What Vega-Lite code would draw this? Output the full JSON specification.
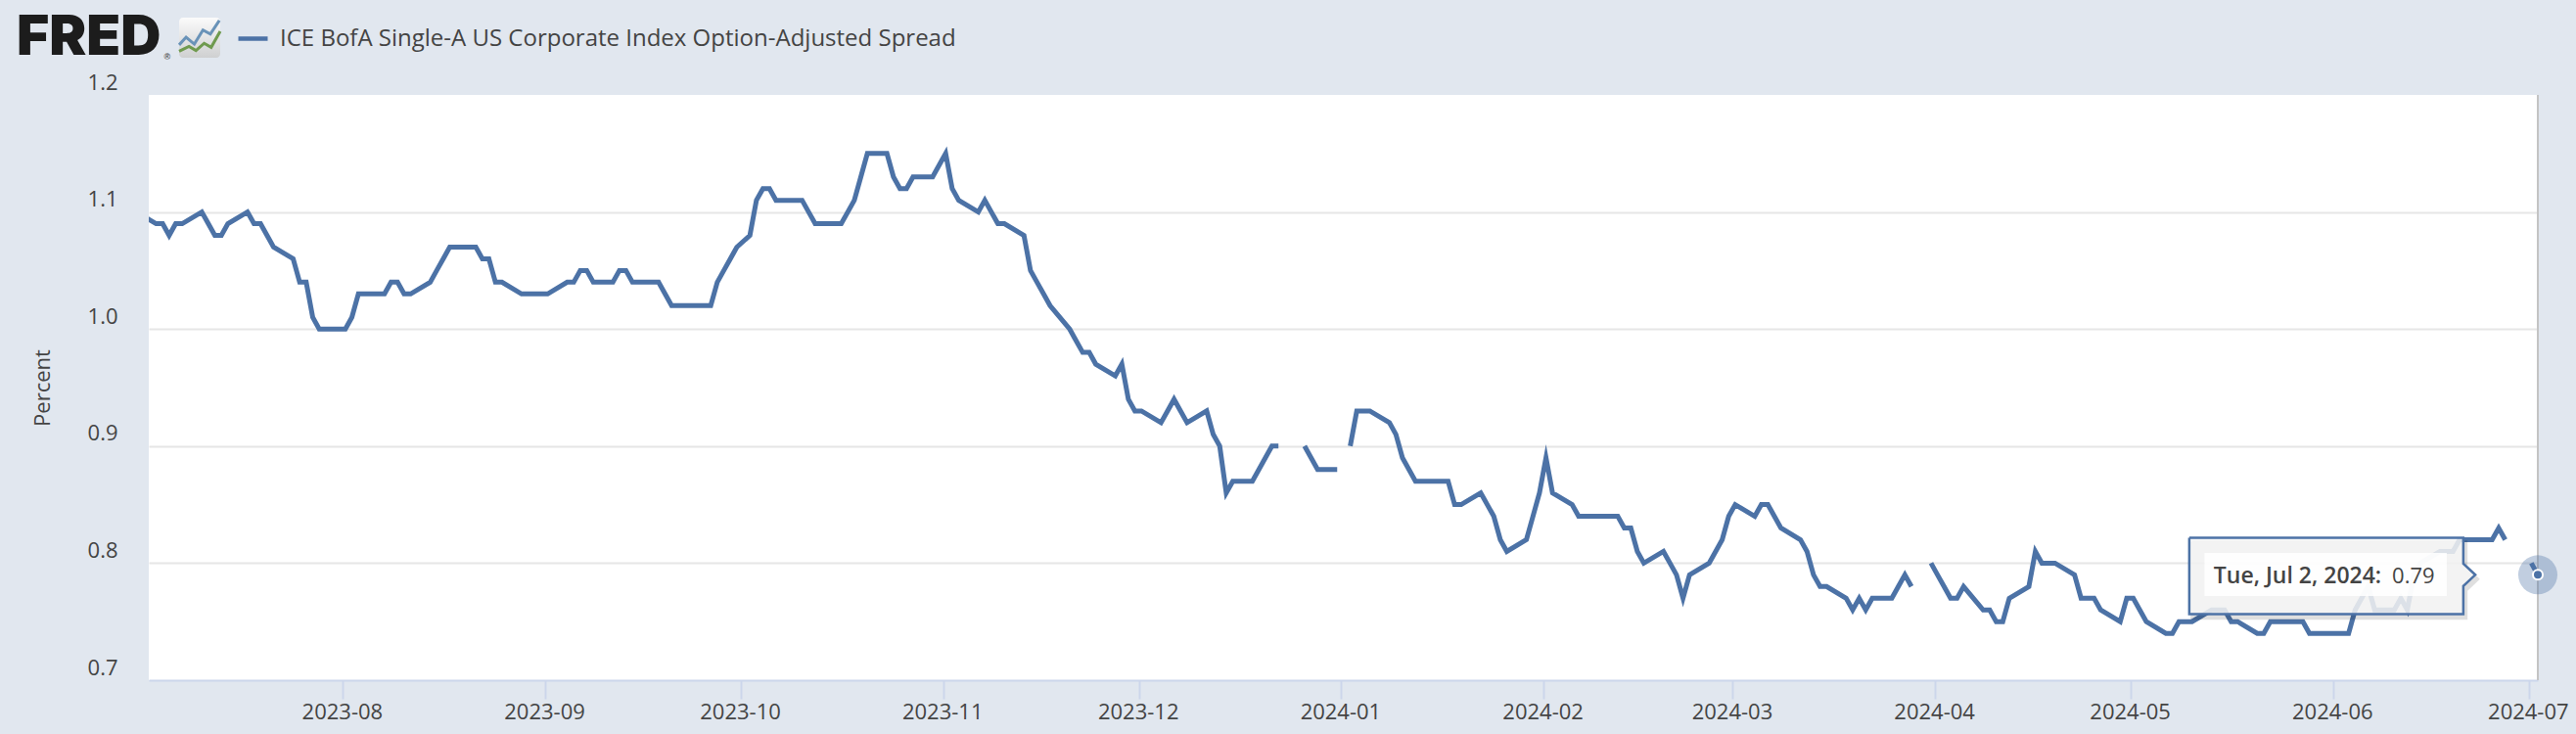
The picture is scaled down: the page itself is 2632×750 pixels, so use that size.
{
  "$schema": "https://vega.github.io/schema/vega-lite/v6.json",
  "width": 2441,
  "height": 598,
  "autosize": {"type": "none"},
  "padding": {"left": 152, "top": 97, "right": 39, "bottom": 55},
  "background": "#e1e7ef",
  "title": {
    "text": "FRED",
    "anchor": "start",
    "frame": "group",
    "dx": -135,
    "offset": -53,
    "font": "Inter",
    "fontSize": 57,
    "fontWeight": 900,
    "color": "#1c1c1c"
  },
  "datasets": {
    "spread": [
      {"date":"2023-06-30","spread":1.10},{"date":"2023-07-03","spread":1.09},{"date":"2023-07-04","spread":1.09},{"date":"2023-07-05","spread":1.08},{"date":"2023-07-06","spread":1.09},{"date":"2023-07-07","spread":1.09},
      {"date":"2023-07-10","spread":1.10},{"date":"2023-07-11","spread":1.09},{"date":"2023-07-12","spread":1.08},{"date":"2023-07-13","spread":1.08},{"date":"2023-07-14","spread":1.09},
      {"date":"2023-07-17","spread":1.10},{"date":"2023-07-18","spread":1.09},{"date":"2023-07-19","spread":1.09},{"date":"2023-07-20","spread":1.08},{"date":"2023-07-21","spread":1.07},
      {"date":"2023-07-24","spread":1.06},{"date":"2023-07-25","spread":1.04},{"date":"2023-07-26","spread":1.04},{"date":"2023-07-27","spread":1.01},{"date":"2023-07-28","spread":1.00},
      {"date":"2023-07-31","spread":1.00},{"date":"2023-08-01","spread":1.00},{"date":"2023-08-02","spread":1.01},{"date":"2023-08-03","spread":1.03},{"date":"2023-08-04","spread":1.03},
      {"date":"2023-08-07","spread":1.03},{"date":"2023-08-08","spread":1.04},{"date":"2023-08-09","spread":1.04},{"date":"2023-08-10","spread":1.03},{"date":"2023-08-11","spread":1.03},
      {"date":"2023-08-14","spread":1.04},{"date":"2023-08-15","spread":1.05},{"date":"2023-08-16","spread":1.06},{"date":"2023-08-17","spread":1.07},{"date":"2023-08-18","spread":1.07},
      {"date":"2023-08-21","spread":1.07},{"date":"2023-08-22","spread":1.06},{"date":"2023-08-23","spread":1.06},{"date":"2023-08-24","spread":1.04},{"date":"2023-08-25","spread":1.04},
      {"date":"2023-08-28","spread":1.03},{"date":"2023-08-29","spread":1.03},{"date":"2023-08-30","spread":1.03},{"date":"2023-08-31","spread":1.03},{"date":"2023-09-01","spread":1.03},
      {"date":"2023-09-04","spread":1.04},{"date":"2023-09-05","spread":1.04},{"date":"2023-09-06","spread":1.05},{"date":"2023-09-07","spread":1.05},{"date":"2023-09-08","spread":1.04},
      {"date":"2023-09-11","spread":1.04},{"date":"2023-09-12","spread":1.05},{"date":"2023-09-13","spread":1.05},{"date":"2023-09-14","spread":1.04},{"date":"2023-09-15","spread":1.04},
      {"date":"2023-09-18","spread":1.04},{"date":"2023-09-19","spread":1.03},{"date":"2023-09-20","spread":1.02},{"date":"2023-09-21","spread":1.02},{"date":"2023-09-22","spread":1.02},
      {"date":"2023-09-25","spread":1.02},{"date":"2023-09-26","spread":1.02},{"date":"2023-09-27","spread":1.04},{"date":"2023-09-28","spread":1.05},{"date":"2023-09-29","spread":1.06},{"date":"2023-09-30","spread":1.07},
      {"date":"2023-10-02","spread":1.08},{"date":"2023-10-03","spread":1.11},{"date":"2023-10-04","spread":1.12},{"date":"2023-10-05","spread":1.12},{"date":"2023-10-06","spread":1.11},
      {"date":"2023-10-09","spread":1.11},{"date":"2023-10-10","spread":1.11},{"date":"2023-10-11","spread":1.10},{"date":"2023-10-12","spread":1.09},{"date":"2023-10-13","spread":1.09},
      {"date":"2023-10-16","spread":1.09},{"date":"2023-10-17","spread":1.10},{"date":"2023-10-18","spread":1.11},{"date":"2023-10-19","spread":1.13},{"date":"2023-10-20","spread":1.15},
      {"date":"2023-10-23","spread":1.15},{"date":"2023-10-24","spread":1.13},{"date":"2023-10-25","spread":1.12},{"date":"2023-10-26","spread":1.12},{"date":"2023-10-27","spread":1.13},
      {"date":"2023-10-30","spread":1.13},{"date":"2023-10-31","spread":1.14},{"date":"2023-11-01","spread":1.15},{"date":"2023-11-02","spread":1.12},{"date":"2023-11-03","spread":1.11},
      {"date":"2023-11-06","spread":1.10},{"date":"2023-11-07","spread":1.11},{"date":"2023-11-08","spread":1.10},{"date":"2023-11-09","spread":1.09},{"date":"2023-11-10","spread":1.09},
      {"date":"2023-11-13","spread":1.08},{"date":"2023-11-14","spread":1.05},{"date":"2023-11-15","spread":1.04},{"date":"2023-11-16","spread":1.03},{"date":"2023-11-17","spread":1.02},
      {"date":"2023-11-20","spread":1.00},{"date":"2023-11-21","spread":0.99},{"date":"2023-11-22","spread":0.98},{"date":"2023-11-23","spread":0.98},{"date":"2023-11-24","spread":0.97},
      {"date":"2023-11-27","spread":0.96},{"date":"2023-11-28","spread":0.97},{"date":"2023-11-29","spread":0.94},{"date":"2023-11-30","spread":0.93},{"date":"2023-12-01","spread":0.93},
      {"date":"2023-12-04","spread":0.92},{"date":"2023-12-05","spread":0.93},{"date":"2023-12-06","spread":0.94},{"date":"2023-12-07","spread":0.93},{"date":"2023-12-08","spread":0.92},
      {"date":"2023-12-11","spread":0.93},{"date":"2023-12-12","spread":0.91},{"date":"2023-12-13","spread":0.90},{"date":"2023-12-14","spread":0.86},{"date":"2023-12-15","spread":0.87},
      {"date":"2023-12-18","spread":0.87},{"date":"2023-12-19","spread":0.88},{"date":"2023-12-20","spread":0.89},{"date":"2023-12-21","spread":0.90},{"date":"2023-12-22","spread":0.90},
      {"date":"2023-12-25","spread":null},{"date":"2023-12-26","spread":0.90},{"date":"2023-12-27","spread":0.89},{"date":"2023-12-28","spread":0.88},{"date":"2023-12-29","spread":0.88},{"date":"2023-12-31","spread":0.88},
      {"date":"2024-01-01","spread":null},{"date":"2024-01-02","spread":0.90},{"date":"2024-01-03","spread":0.93},{"date":"2024-01-04","spread":0.93},{"date":"2024-01-05","spread":0.93},
      {"date":"2024-01-08","spread":0.92},{"date":"2024-01-09","spread":0.91},{"date":"2024-01-10","spread":0.89},{"date":"2024-01-11","spread":0.88},{"date":"2024-01-12","spread":0.87},
      {"date":"2024-01-15","spread":0.87},{"date":"2024-01-16","spread":0.87},{"date":"2024-01-17","spread":0.87},{"date":"2024-01-18","spread":0.85},{"date":"2024-01-19","spread":0.85},
      {"date":"2024-01-22","spread":0.86},{"date":"2024-01-23","spread":0.85},{"date":"2024-01-24","spread":0.84},{"date":"2024-01-25","spread":0.82},{"date":"2024-01-26","spread":0.81},
      {"date":"2024-01-29","spread":0.82},{"date":"2024-01-30","spread":0.84},{"date":"2024-01-31","spread":0.86},{"date":"2024-02-01","spread":0.89},{"date":"2024-02-02","spread":0.86},
      {"date":"2024-02-05","spread":0.85},{"date":"2024-02-06","spread":0.84},{"date":"2024-02-07","spread":0.84},{"date":"2024-02-08","spread":0.84},{"date":"2024-02-09","spread":0.84},
      {"date":"2024-02-12","spread":0.84},{"date":"2024-02-13","spread":0.83},{"date":"2024-02-14","spread":0.83},{"date":"2024-02-15","spread":0.81},{"date":"2024-02-16","spread":0.80},
      {"date":"2024-02-19","spread":0.81},{"date":"2024-02-20","spread":0.80},{"date":"2024-02-21","spread":0.79},{"date":"2024-02-22","spread":0.77},{"date":"2024-02-23","spread":0.79},
      {"date":"2024-02-26","spread":0.80},{"date":"2024-02-27","spread":0.81},{"date":"2024-02-28","spread":0.82},{"date":"2024-02-29","spread":0.84},{"date":"2024-03-01","spread":0.85},
      {"date":"2024-03-04","spread":0.84},{"date":"2024-03-05","spread":0.85},{"date":"2024-03-06","spread":0.85},{"date":"2024-03-07","spread":0.84},{"date":"2024-03-08","spread":0.83},
      {"date":"2024-03-11","spread":0.82},{"date":"2024-03-12","spread":0.81},{"date":"2024-03-13","spread":0.79},{"date":"2024-03-14","spread":0.78},{"date":"2024-03-15","spread":0.78},
      {"date":"2024-03-18","spread":0.77},{"date":"2024-03-19","spread":0.76},{"date":"2024-03-20","spread":0.77},{"date":"2024-03-21","spread":0.76},{"date":"2024-03-22","spread":0.77},
      {"date":"2024-03-25","spread":0.77},{"date":"2024-03-26","spread":0.78},{"date":"2024-03-27","spread":0.79},{"date":"2024-03-28","spread":0.78},{"date":"2024-03-29","spread":null},{"date":"2024-03-31","spread":0.80},
      {"date":"2024-04-01","spread":0.79},{"date":"2024-04-02","spread":0.78},{"date":"2024-04-03","spread":0.77},{"date":"2024-04-04","spread":0.77},{"date":"2024-04-05","spread":0.78},
      {"date":"2024-04-08","spread":0.76},{"date":"2024-04-09","spread":0.76},{"date":"2024-04-10","spread":0.75},{"date":"2024-04-11","spread":0.75},{"date":"2024-04-12","spread":0.77},
      {"date":"2024-04-15","spread":0.78},{"date":"2024-04-16","spread":0.81},{"date":"2024-04-17","spread":0.80},{"date":"2024-04-18","spread":0.80},{"date":"2024-04-19","spread":0.80},
      {"date":"2024-04-22","spread":0.79},{"date":"2024-04-23","spread":0.77},{"date":"2024-04-24","spread":0.77},{"date":"2024-04-25","spread":0.77},{"date":"2024-04-26","spread":0.76},
      {"date":"2024-04-29","spread":0.75},{"date":"2024-04-30","spread":0.77},{"date":"2024-05-01","spread":0.77},{"date":"2024-05-02","spread":0.76},{"date":"2024-05-03","spread":0.75},
      {"date":"2024-05-06","spread":0.74},{"date":"2024-05-07","spread":0.74},{"date":"2024-05-08","spread":0.75},{"date":"2024-05-09","spread":0.75},{"date":"2024-05-10","spread":0.75},
      {"date":"2024-05-13","spread":0.76},{"date":"2024-05-14","spread":0.76},{"date":"2024-05-15","spread":0.76},{"date":"2024-05-16","spread":0.75},{"date":"2024-05-17","spread":0.75},
      {"date":"2024-05-20","spread":0.74},{"date":"2024-05-21","spread":0.74},{"date":"2024-05-22","spread":0.75},{"date":"2024-05-23","spread":0.75},{"date":"2024-05-24","spread":0.75},
      {"date":"2024-05-27","spread":0.75},{"date":"2024-05-28","spread":0.74},{"date":"2024-05-29","spread":0.74},{"date":"2024-05-30","spread":0.74},{"date":"2024-05-31","spread":0.74},
      {"date":"2024-06-03","spread":0.74},{"date":"2024-06-04","spread":0.76},{"date":"2024-06-05","spread":0.77},{"date":"2024-06-06","spread":0.78},{"date":"2024-06-07","spread":0.76},
      {"date":"2024-06-10","spread":0.76},{"date":"2024-06-11","spread":0.77},{"date":"2024-06-12","spread":0.76},{"date":"2024-06-13","spread":0.79},{"date":"2024-06-14","spread":0.80},
      {"date":"2024-06-17","spread":0.81},{"date":"2024-06-18","spread":0.81},{"date":"2024-06-19","spread":0.81},{"date":"2024-06-20","spread":0.82},{"date":"2024-06-21","spread":0.82},
      {"date":"2024-06-24","spread":0.82},{"date":"2024-06-25","spread":0.82},{"date":"2024-06-26","spread":0.83},{"date":"2024-06-27","spread":0.82},{"date":"2024-06-28","spread":null},
      {"date":"2024-07-01","spread":0.80},{"date":"2024-07-02","spread":0.79}
    ]
  },
  "resolve": {"scale": {"x": "independent", "y": "independent"}},
  "layer": [
    {
      "layer": [
        {
          "data": {"name": "spread"},
          "transform": [{"calculate": "'ICE BofA Single-A US Corporate Index Option-Adjusted Spread'", "as": "series"}],
          "mark": {"type": "line", "strokeWidth": 5, "strokeCap": "butt", "strokeJoin": "miter", "strokeMiterLimit": 10, "clip": true},
          "encoding": {
            "x": {
              "field": "date",
              "type": "temporal",
              "scale": {"type": "utc", "domain": ["2023-07-01T21:00:00Z", "2024-07-02T00:00:00Z"]},
              "axis": {
                "title": null,
                "labelExpr": "utcFormat(datum.value, '%Y-%m')",
                "tickCount": {"interval": "month", "step": 1},
                "grid": false,
                "domainColor": "#ccd6eb",
                "domainWidth": 2,
                "tickColor": "#ccd6eb",
                "tickWidth": 2,
                "tickSize": 19,
                "tickOffset": -2.5,
                "labelOffset": -1,
                "labelPadding": 3,
                "labelFont": "Open Sans",
                "labelFontSize": 22,
                "labelColor": "#444444",
                "labelOverlap": false,
                "labelFlush": false
              }
            },
            "y": {
              "field": "spread",
              "type": "quantitative",
              "scale": {"domain": [0.7, 1.2], "nice": false, "zero": false},
              "axis": {
                "title": "Percent",
                "titleFont": "Open Sans",
                "titleFontSize": 22,
                "titleFontWeight": "normal",
                "titleColor": "#444444",
                "titlePadding": 34,
                "values": [0.7, 0.8, 0.9, 1.0, 1.1, 1.2],
                "format": ".1f",
                "domain": false,
                "ticks": false,
                "labelPadding": 32,
                "labelOffset": -13,
                "labelFont": "Open Sans",
                "labelFontSize": 22,
                "labelColor": "#444444",
                "gridColor": "#e6e6e6",
                "gridWidth": 2,
                "gridOpacity": {"condition": {"test": "datum.value >= 1.2 || datum.value <= 0.7", "value": 0}, "value": 1}
              }
            },
            "color": {
              "field": "series",
              "type": "nominal",
              "scale": {"range": ["#4c72a6"]},
              "legend": {
                "title": null,
                "orient": "none",
                "legendX": 89,
                "legendY": -75,
                "symbolType": "stroke",
                "symbolStrokeWidth": 4.5,
                "symbolSize": 900,
                "labelFont": "Open Sans",
                "labelFontSize": 24,
                "labelColor": "#444444",
                "labelLimit": 900,
                "labelOffset": 10
              }
            }
          }
        },
        {
          "data": {"values": [{"date": "2024-07-02"}]},
          "mark": {"type": "rule", "color": "#c4c4c4", "strokeWidth": 2},
          "encoding": {"x": {"field": "date", "type": "temporal"}}
        },
        {
          "data": {"values": [{"date": "2024-07-02", "spread": 0.79}]},
          "mark": {"type": "point", "filled": true, "shape": "circle", "size": 1600, "color": "#4c72a6", "opacity": 0.35},
          "encoding": {
            "x": {"field": "date", "type": "temporal"},
            "y": {"field": "spread", "type": "quantitative"}
          }
        },
        {
          "data": {"values": [{"date": "2024-07-02", "spread": 0.79}]},
          "mark": {"type": "point", "filled": true, "shape": "circle", "size": 100, "color": "#4c72a6", "stroke": "#ffffff", "strokeWidth": 2, "opacity": 1},
          "encoding": {
            "x": {"field": "date", "type": "temporal"},
            "y": {"field": "spread", "type": "quantitative"}
          }
        },
        {
          "data": {"values": [
            {"i": 1, "date": "2024-05-10T00:00:00Z", "spread": 0.8180},
            {"i": 2, "date": "2024-06-21T00:00:00Z", "spread": 0.8180},
            {"i": 3, "date": "2024-06-21T00:00:00Z", "spread": 0.7958},
            {"i": 4, "date": "2024-06-22T19:00:00Z", "spread": 0.7863},
            {"i": 5, "date": "2024-06-21T00:00:00Z", "spread": 0.7768},
            {"i": 6, "date": "2024-06-21T00:00:00Z", "spread": 0.7528},
            {"i": 7, "date": "2024-05-10T00:00:00Z", "spread": 0.7528},
            {"i": 8, "date": "2024-05-10T00:00:00Z", "spread": 0.8180}
          ]},
          "mark": {"type": "line", "color": "#000000", "strokeWidth": 3, "opacity": 0.12, "fill": "#000000"},
          "encoding": {
            "x": {"field": "date", "type": "temporal"},
            "y": {"field": "spread", "type": "quantitative"},
            "order": {"field": "i", "type": "quantitative"}
          }
        },
        {
          "data": {"values": [
            {"i": 1, "date": "2024-05-09T14:00:00Z", "spread": 0.8217},
            {"i": 2, "date": "2024-06-20T14:00:00Z", "spread": 0.8217},
            {"i": 3, "date": "2024-06-20T14:00:00Z", "spread": 0.7995},
            {"i": 4, "date": "2024-06-22T10:00:00Z", "spread": 0.7900},
            {"i": 5, "date": "2024-06-20T14:00:00Z", "spread": 0.7805},
            {"i": 6, "date": "2024-06-20T14:00:00Z", "spread": 0.7565},
            {"i": 7, "date": "2024-05-09T14:00:00Z", "spread": 0.7565},
            {"i": 8, "date": "2024-05-09T14:00:00Z", "spread": 0.8217}
          ]},
          "mark": {"type": "line", "color": "#4c72a6", "strokeWidth": 2.5, "fill": "#f7f7f7", "fillOpacity": 0.85},
          "encoding": {
            "x": {"field": "date", "type": "temporal"},
            "y": {"field": "spread", "type": "quantitative"},
            "order": {"field": "i", "type": "quantitative"}
          }
        },
        {
          "data": {"values": [{"date": "2024-05-11T22:00:00Z", "date2": "2024-06-18T01:00:00Z", "spread": 0.8087, "spread2": 0.7719}]},
          "mark": {"type": "rect", "color": "#ffffff", "opacity": 0.85},
          "encoding": {
            "x": {"field": "date", "type": "temporal"},
            "x2": {"field": "date2"},
            "y": {"field": "spread", "type": "quantitative"},
            "y2": {"field": "spread2"}
          }
        },
        {
          "data": {"values": [{"date": "2024-05-13T08:00:00Z", "spread": 0.79, "label": "Tue, Jul 2, 2024:"}]},
          "mark": {"type": "text", "align": "left", "baseline": "middle", "dy": 2, "font": "Open Sans", "fontSize": 23, "fontWeight": 600, "color": "#444444"},
          "encoding": {
            "x": {"field": "date", "type": "temporal"},
            "y": {"field": "spread", "type": "quantitative"},
            "text": {"field": "label"}
          }
        },
        {
          "data": {"values": [{"date": "2024-06-09T16:00:00Z", "spread": 0.79, "label": "0.79"}]},
          "mark": {"type": "text", "align": "left", "baseline": "middle", "dy": 2, "font": "Open Sans", "fontSize": 22, "color": "#444444"},
          "encoding": {
            "x": {"field": "date", "type": "temporal"},
            "y": {"field": "spread", "type": "quantitative"},
            "text": {"field": "label"}
          }
        }
      ]
    },
    {
      "data": {"values": [
        {"part": "frame", "x": 0, "y": 0, "x2": 100, "y2": 100},
        {"part": "blue", "i": 1, "x": 0, "y": 32},
        {"part": "blue", "i": 2, "x": 17, "y": 51},
        {"part": "blue", "i": 3, "x": 37, "y": 34},
        {"part": "blue", "i": 4, "x": 58, "y": 69},
        {"part": "blue", "i": 5, "x": 76, "y": 59},
        {"part": "blue", "i": 6, "x": 98, "y": 93},
        {"part": "green", "i": 1, "x": 0, "y": 16},
        {"part": "green", "i": 2, "x": 24, "y": 28},
        {"part": "green", "i": 3, "x": 41, "y": 18},
        {"part": "green", "i": 4, "x": 61, "y": 36},
        {"part": "green", "i": 5, "x": 78, "y": 26},
        {"part": "green", "i": 6, "x": 100, "y": 66},
        {"part": "mark", "x": -29, "y": 3, "label": "®"}
      ]},
      "encoding": {
        "x": {"field": "x", "type": "quantitative", "axis": null, "scale": {"domain": [0, 100], "range": [31, 73], "nice": false, "zero": false}},
        "y": {"field": "y", "type": "quantitative", "axis": null, "scale": {"domain": [0, 100], "range": [-38, -79], "nice": false, "zero": false}}
      },
      "layer": [
        {
          "transform": [{"filter": "datum.part === 'frame'"}],
          "mark": {"type": "rect", "cornerRadius": 4, "color": {"x1": 0, "y1": 0, "x2": 0, "y2": 1, "gradient": "linear", "stops": [{"offset": 0, "color": "#fbfbfb"}, {"offset": 1, "color": "#cfd0d1"}]}},
          "encoding": {"x2": {"field": "x2"}, "y2": {"field": "y2"}}
        },
        {
          "transform": [{"filter": "datum.part === 'blue'"}],
          "mark": {"type": "line", "color": "#6a93b8", "strokeWidth": 3},
          "encoding": {"order": {"field": "i", "type": "quantitative"}}
        },
        {
          "transform": [{"filter": "datum.part === 'green'"}],
          "mark": {"type": "line", "color": "#6f9a4e", "strokeWidth": 3},
          "encoding": {"order": {"field": "i", "type": "quantitative"}}
        },
        {
          "transform": [{"filter": "datum.part === 'mark'"}],
          "mark": {"type": "text", "font": "Liberation Sans", "fontSize": 9, "fontWeight": "bold", "color": "#555555"},
          "encoding": {"text": {"field": "label"}}
        }
      ]
    }
  ],
  "config": {"view": {"fill": "#ffffff", "stroke": null}}
}
